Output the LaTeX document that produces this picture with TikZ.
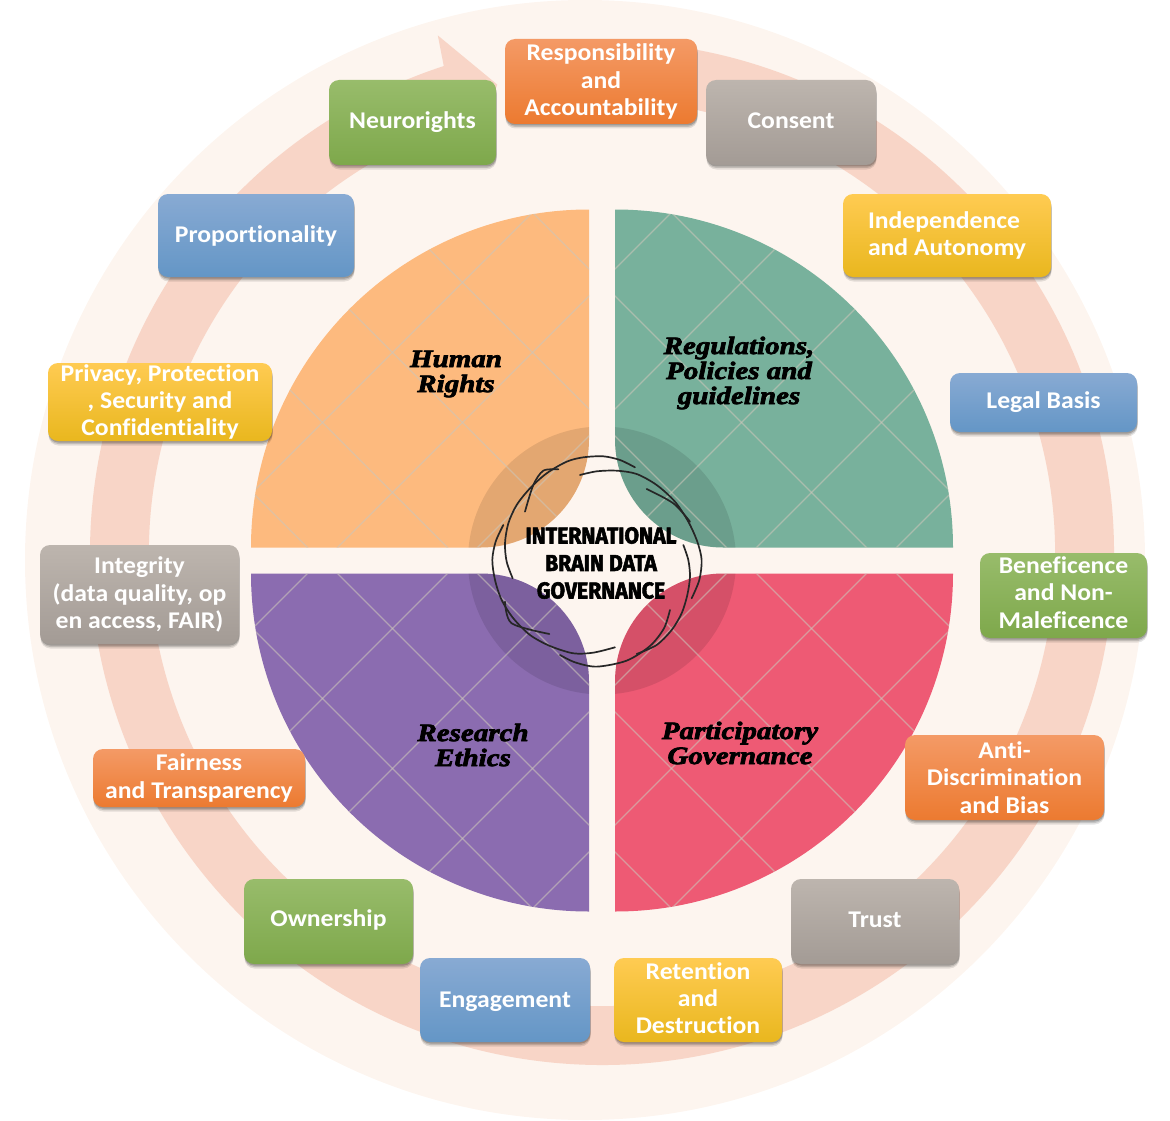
\documentclass[tikz,border=0pt]{standalone}
\usepackage{xcolor}
\usepackage{fontspec}
\usepackage{tikz}
\usetikzlibrary{shadows}
\setmainfont[FakeStretch=1.07,Ligatures=NoCommon]{Carlito}
\newfontfamily\titlefont[FakeBold=3,FakeStretch=1.16]{Liberation Serif}
\newfontfamily\hubfont[FakeBold=2.4,FakeStretch=0.92]{Fira Sans}
\newcommand{\liftup}[1]{\rule[-#1pt]{0pt}{0pt}}
\definecolor{creamback}{HTML}{FDF5EF}
\definecolor{ringpink}{HTML}{F8D5C7}
\definecolor{tileorange}{HTML}{FDBA7E}
\definecolor{tilegreen}{HTML}{78B19C}
\definecolor{tilepurple}{HTML}{8B6CB0}
\definecolor{tilered}{HTML}{EE5A74}
\definecolor{tilestroke}{HTML}{CCC6BA}
\definecolor{orangeA}{HTML}{F49A66}
\definecolor{orangeB}{HTML}{F6873C}
\definecolor{orangeC}{HTML}{EC7A30}
\definecolor{greenA}{HTML}{98BC6B}
\definecolor{greenB}{HTML}{86B351}
\definecolor{greenC}{HTML}{7EA84B}
\definecolor{grayA}{HTML}{BDB5AE}
\definecolor{grayB}{HTML}{AFA7A0}
\definecolor{grayC}{HTML}{A39B95}
\definecolor{blueA}{HTML}{88AAD3}
\definecolor{blueB}{HTML}{72A0CF}
\definecolor{blueC}{HTML}{6496C6}
\definecolor{yellowA}{HTML}{FFCB52}
\definecolor{yellowB}{HTML}{FFC720}
\definecolor{yellowC}{HTML}{E9B71E}
\tikzset{
    box/.style={rounded corners=10pt, align=center, text=white, inner sep=0pt,
        font=\fontsize{24}{27.4}\selectfont\bfseries,
        drop shadow={shadow xshift=.5pt, shadow yshift=-4.5pt, opacity=.1, fill=black},
        drop shadow={shadow xshift=.5pt, shadow yshift=-3pt, opacity=.14, fill=black},
        drop shadow={shadow xshift=.5pt, shadow yshift=-1.5pt, opacity=.18, fill=black}},
    orangebox/.style={box, top color=orangeA, middle color=orangeB, bottom color=orangeC},
    greenbox/.style={box, top color=greenA, middle color=greenB, bottom color=greenC},
    graybox/.style={box, top color=grayA, middle color=grayB, bottom color=grayC},
    bluebox/.style={box, top color=blueA, middle color=blueB, bottom color=blueC},
    yellowbox/.style={box, top color=yellowA, middle color=yellowB, bottom color=yellowC},
    sectitle/.style={align=center, font=\fontsize{25}{25}\selectfont\titlefont\bfseries\itshape},
    hubtitle/.style={align=center, font=\fontsize{23}{27.5}\selectfont\hubfont\bfseries},
    scribble/.style={line width=1.7pt, color=black!85, line cap=round},
    tileline/.style={line width=1.2pt, color=tilestroke, opacity=.6}
}
\begin{document}
\begin{tikzpicture}[x=1pt,y=-1pt]
    \useasboundingbox (0,0) rectangle (1170,1121);
    \fill[creamback] (585,560) circle (560);
    \fill[ringpink, shift={(602,553)}] (-85:512) arc[start angle=-85, end angle=252, radius=512]
        -- (252.4:543) -- (257.4:480) -- (252.4:422) -- (252:453)
        arc[start angle=252, end angle=-85, radius=453] -- cycle;
    \foreach \sx/\sy/\col in {1/1/tileorange, -1/1/tilegreen, 1/-1/tilepurple, -1/-1/tilered} {
        \begin{scope}[shift={(602,560.5)}, xscale=\sx, yscale=\sy]
            \fill[\col] (-13,-351) -- (-13,-121) .. controls (-13,-61.4) and (-61.4,-13) .. (-121,-13)
                -- (-351,-13) .. controls (-351,-199.7) and (-199.7,-351) .. (-13,-351) -- cycle;
            \begin{scope}
                \clip (-13,-351) -- (-13,-121) .. controls (-13,-61.4) and (-61.4,-13) .. (-121,-13)
                    -- (-351,-13) .. controls (-351,-199.7) and (-199.7,-351) .. (-13,-351) -- cycle;
                \fill[black, opacity=.1] (0,0) circle (134);
                \foreach \s in {-557.5,-417.5,-277.5,-137.5} {
                    \draw[tileline] (-400,\s+400) -- (0,\s);
                }
                \foreach \d in {-281.5,-141.5,-1.5,138.5,278.5} {
                    \draw[tileline] (-400,-400-\d) -- (0,-\d);
                }
            \end{scope}
        \end{scope}
    }
    \node[sectitle] (humanrights) at (456,374) {Human\\Rights};
    \node[sectitle] (regulations) at (739,373) {Regulations,\\Policies and\\guidelines};
    \node[sectitle] (ethics) at (473,745) {Research\\Ethics};
    \node[sectitle] (participatory) at (740,743) {Participatory\\Governance};
    \node[hubtitle] (hub) at (601,563) {INTERNATIONAL\\BRAIN DATA\\GOVERNANCE};
    \begin{scope}[shift={(440,410)}, x=.3333pt, y=-.3333pt]
        \draw[scribble] plot[smooth] coordinates {(585,172) (540,150) (490,139) (430,142) (380,155) (320,190) (270,235) (230,285) (205,340) (195,400) (200,455) (218,505)};
        \draw[scribble] plot[smooth] coordinates {(355,178) (310,182) (280,225) (255,305)};
        \draw[scribble] plot[smooth] coordinates {(420,195) (470,184) (530,182) (590,192) (650,225) (705,275) (745,335) (772,395) (785,450) (778,510) (755,565)};
        \draw[scribble] plot[smooth] coordinates {(620,237) (700,280) (750,335)};
        \draw[scribble] plot[smooth] coordinates {(730,405) (745,450) (750,500) (742,555) (725,610) (695,660) (650,705) (590,732)};
        \draw[scribble] plot[smooth] coordinates {(690,600) (672,655) (630,708) (560,752) (470,770) (405,757) (360,735)};
        \draw[scribble] plot[smooth] coordinates {(525,712) (460,728) (400,730) (330,708) (270,675) (220,625) (185,570) (165,510) (157,450) (167,395) (190,345)};
        \draw[scribble] plot[smooth] coordinates {(195,575) (215,640) (328,672)};
    \end{scope}
    \node[orangebox, minimum width=192, minimum height=85] (responsibility) at (601,81.5) {Responsibility\\and\\Accountability};
    \node[greenbox, minimum width=167, minimum height=85] (neurorights) at (412.5,122.5) {Neurorights};
    \node[graybox, minimum width=170, minimum height=85] (consent) at (791,122.5) {Consent\liftup{4}};
    \node[bluebox, minimum width=196, minimum height=83] (proportionality) at (256,235.5) {Proportionality};
    \node[yellowbox, align=left, minimum width=208, minimum height=83] (independence) at (947,235.5) {Independence\\and Autonomy};
    \node[bluebox, minimum width=187, minimum height=59] (legalbasis) at (1043.5,402.5) {Legal Basis};
    \node[yellowbox, minimum width=224, minimum height=78] (privacy) at (160,402) {Privacy, Protection\\, Security and\\Confidentiality};
    \node[graybox, minimum width=199, minimum height=99] (integrity) at (139.5,594.5) {Integrity\\(data quality, op\\en access, FAIR)};
    \node[greenbox, minimum width=167, minimum height=85] (beneficence) at (1063.5,595.5) {Beneficence\\and Non-\\Maleficence\liftup{6}};
    \node[orangebox, minimum width=212, minimum height=58] (fairness) at (199,778) {Fairness\\and Transparency};
    \node[orangebox, minimum width=199, minimum height=85] (antidiscrimination) at (1004.5,777.5) {Anti-\\Discrimination\\and Bias};
    \node[greenbox, minimum width=169, minimum height=85] (ownership) at (328.5,921.5) {\rule[-7pt]{0pt}{0pt}Ownership};
    \node[graybox, minimum width=168, minimum height=85] (trust) at (875,921.5) {Trust\liftup{4}};
    \node[bluebox, minimum width=170, minimum height=84] (engagement) at (505,1000) {\rule{0pt}{19pt}Engagement};
    \node[yellowbox, minimum width=168, minimum height=84] (retention) at (698,1000) {Retention\\and\\Destruction\liftup{4}};
\end{tikzpicture}
\end{document}
